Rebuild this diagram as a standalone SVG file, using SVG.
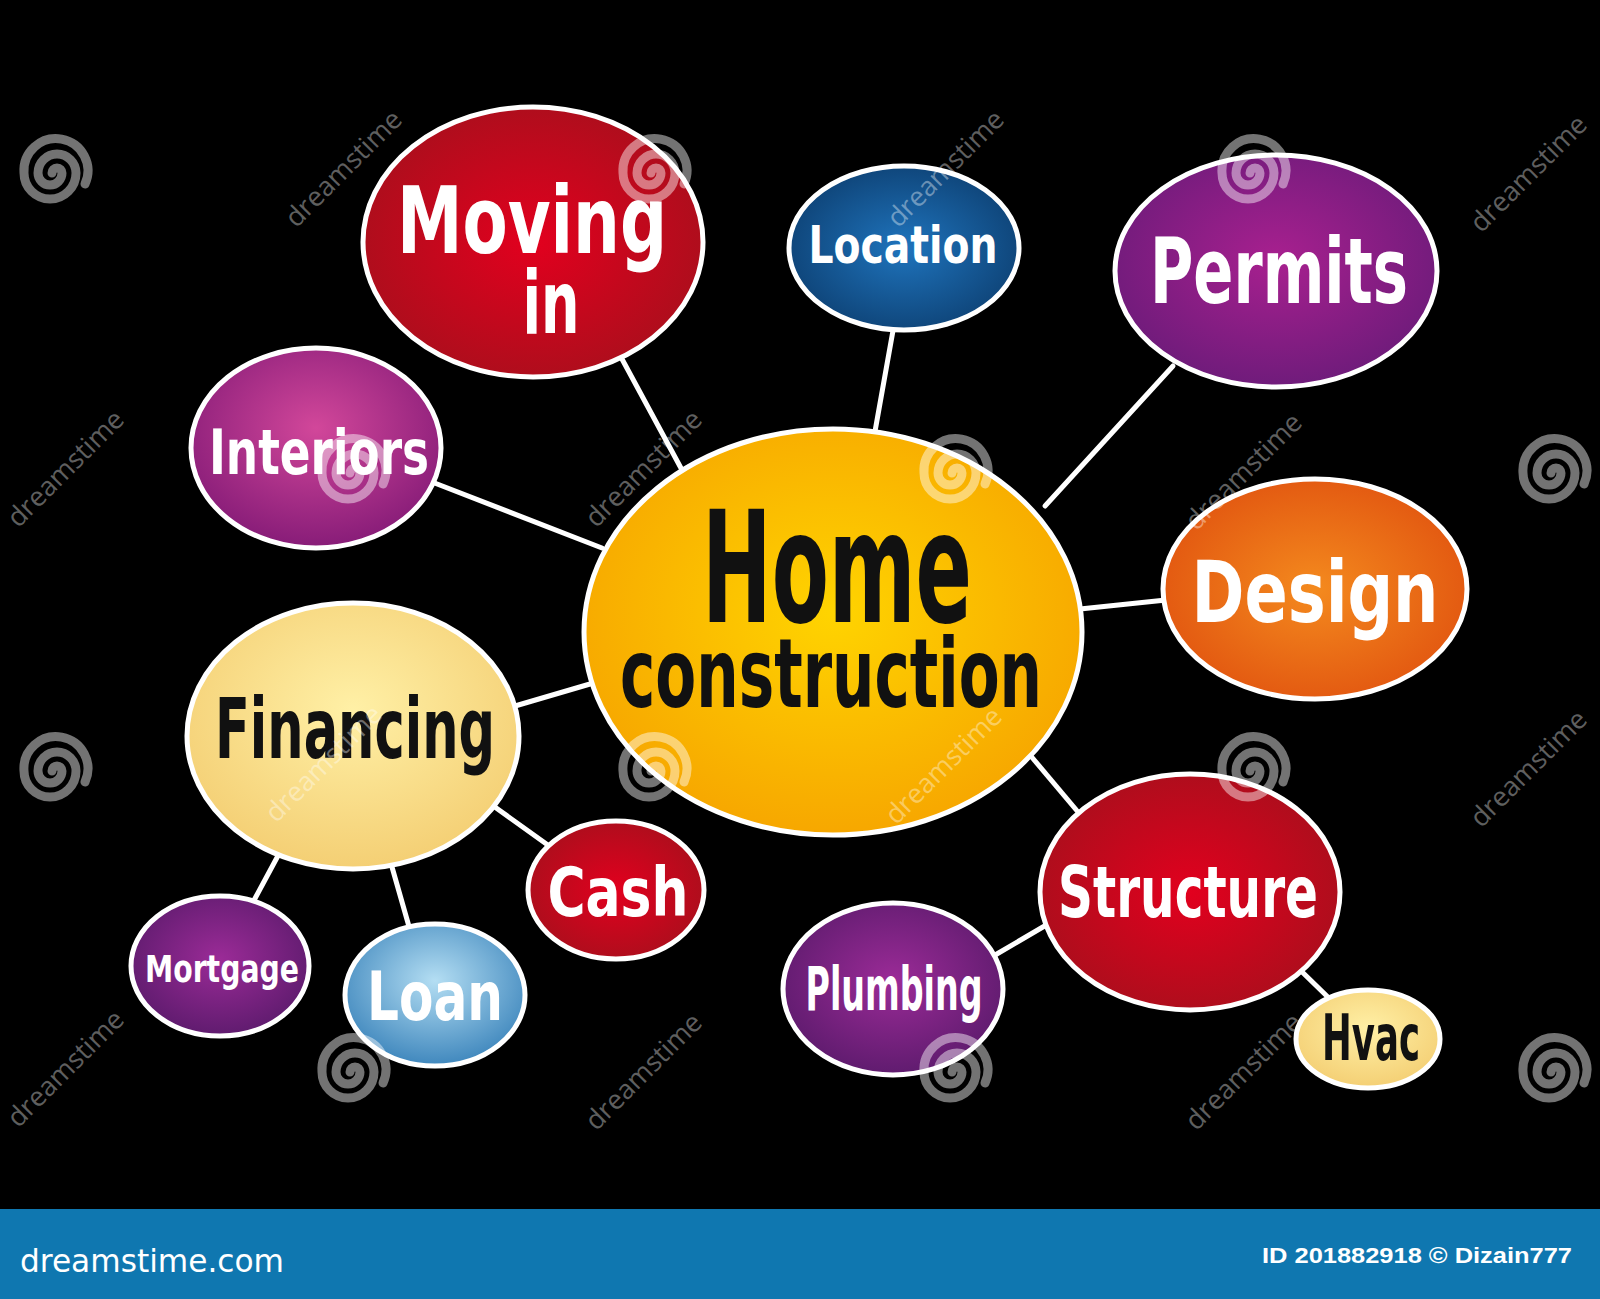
<svg xmlns="http://www.w3.org/2000/svg" width="1600" height="1299" viewBox="0 0 1600 1299">
<defs>
<style>
.bg{fill:#000}
.node{stroke:#fff;stroke-width:5}
.lbl{font-family:"DejaVu Sans Condensed","DejaVu Sans",sans-serif;font-weight:bold;text-anchor:middle}
.w{fill:#fff}
.k{fill:#111}
.conn line{stroke:#fff;stroke-width:5;stroke-linecap:round}
.wm{font-family:"Open Sans","DejaVu Sans",sans-serif;font-size:27px;fill:#fff;fill-opacity:0.38;text-anchor:middle}
.sp{fill:none;stroke:#fff;stroke-opacity:0.45;stroke-width:9;stroke-linecap:round}
</style>
<radialGradient id="gYellow" cx="50%" cy="45%" r="60%"><stop offset="0" stop-color="#ffd400"/><stop offset="1" stop-color="#f6a300"/></radialGradient>
<radialGradient id="gRed" cx="50%" cy="50%" r="60%"><stop offset="0" stop-color="#e2001e"/><stop offset="1" stop-color="#a5101c"/></radialGradient>
<radialGradient id="gBlue" cx="50%" cy="50%" r="60%"><stop offset="0" stop-color="#1f74bd"/><stop offset="1" stop-color="#0c3d6e"/></radialGradient>
<radialGradient id="gPurple" cx="50%" cy="45%" r="60%"><stop offset="0" stop-color="#a8208f"/><stop offset="1" stop-color="#6a1b79"/></radialGradient>
<radialGradient id="gPink" cx="50%" cy="40%" r="60%"><stop offset="0" stop-color="#d2479a"/><stop offset="1" stop-color="#871c78"/></radialGradient>
<radialGradient id="gOrange" cx="50%" cy="50%" r="60%"><stop offset="0" stop-color="#f48a1e"/><stop offset="1" stop-color="#e0510f"/></radialGradient>
<radialGradient id="gPale" cx="50%" cy="40%" r="60%"><stop offset="0" stop-color="#fff0a6"/><stop offset="1" stop-color="#f4cf74"/></radialGradient>
<radialGradient id="gLight" cx="50%" cy="40%" r="60%"><stop offset="0" stop-color="#b4def3"/><stop offset="1" stop-color="#3f87bd"/></radialGradient>
<radialGradient id="gViolet" cx="50%" cy="45%" r="60%"><stop offset="0" stop-color="#9b2b97"/><stop offset="1" stop-color="#5a1a6b"/></radialGradient>
<symbol id="spiral" viewBox="-40 -40 80 80" overflow="visible">
<path class="sp" d="M 3 -1 A 5 5 0 0 1 13 -1 A 12 12 0 0 1 -11 -1 A 19 19 0 0 1 27 -1 A 26 26 0 0 1 -25 -1 A 32 32 0 1 1 36 10"/>
</symbol>
</defs>
<rect class="bg" x="0" y="0" width="1600" height="1299"/>

<g id="connectors" class="conn">
<line x1="622" y1="359" x2="682" y2="470"/>
<line x1="894" y1="325" x2="874" y2="437"/>
<line x1="1173" y1="366" x2="1045" y2="506"/>
<line x1="432" y1="482" x2="602" y2="548"/>
<line x1="1166" y1="600" x2="1080" y2="609"/>
<line x1="515" y1="706" x2="590" y2="684"/>
<line x1="1078" y1="812" x2="1030" y2="755"/>
<line x1="492" y1="805" x2="552" y2="848"/>
<line x1="280" y1="852" x2="252" y2="904"/>
<line x1="390" y1="860" x2="410" y2="930"/>
<line x1="1048" y1="924" x2="990" y2="958"/>
<line x1="1296" y1="966" x2="1335" y2="1004"/>
</g>

<g id="node-home">
<ellipse class="node" cx="833" cy="632" rx="249" ry="203" fill="url(#gYellow)"/>
<text class="lbl k" x="837" y="622" font-size="155" textLength="270" lengthAdjust="spacingAndGlyphs">Home</text>
<text class="lbl k" x="831" y="707" font-size="96" textLength="422" lengthAdjust="spacingAndGlyphs">construction</text>
</g>
<g id="node-moving-in">
<ellipse class="node" cx="533" cy="242" rx="170" ry="135" fill="url(#gRed)"/>
<text class="lbl w" x="532" y="253" font-size="92" textLength="270" lengthAdjust="spacingAndGlyphs">Moving</text>
<text class="lbl w" x="551" y="333" font-size="88" textLength="57" lengthAdjust="spacingAndGlyphs">in</text>
</g>
<g id="node-location">
<ellipse class="node" cx="904" cy="248" rx="115" ry="82" fill="url(#gBlue)"/>
<text class="lbl w" x="903" y="263" font-size="52" textLength="189" lengthAdjust="spacingAndGlyphs">Location</text>
</g>
<g id="node-permits">
<ellipse class="node" cx="1276" cy="271" rx="161" ry="116" fill="url(#gPurple)"/>
<text class="lbl w" x="1279" y="303" font-size="90" textLength="258" lengthAdjust="spacingAndGlyphs">Permits</text>
</g>
<g id="node-interiors">
<ellipse class="node" cx="316" cy="448" rx="125" ry="100" fill="url(#gPink)"/>
<text class="lbl w" x="319" y="474" font-size="63" textLength="220" lengthAdjust="spacingAndGlyphs">Interiors</text>
</g>
<g id="node-design">
<ellipse class="node" cx="1315" cy="589" rx="152" ry="110" fill="url(#gOrange)"/>
<text class="lbl w" x="1315" y="622" font-size="86" textLength="247" lengthAdjust="spacingAndGlyphs">Design</text>
</g>
<g id="node-financing">
<ellipse class="node" cx="353" cy="736" rx="166" ry="133" fill="url(#gPale)"/>
<text class="lbl k" x="355" y="758" font-size="84" textLength="280" lengthAdjust="spacingAndGlyphs">Financing</text>
</g>
<g id="node-cash">
<ellipse class="node" cx="616" cy="890" rx="88" ry="69" fill="url(#gRed)"/>
<text class="lbl w" x="618" y="916" font-size="67" textLength="141" lengthAdjust="spacingAndGlyphs">Cash</text>
</g>
<g id="node-mortgage">
<ellipse class="node" cx="220" cy="966" rx="89" ry="70" fill="url(#gViolet)"/>
<text class="lbl w" x="222" y="982" font-size="38" textLength="154" lengthAdjust="spacingAndGlyphs">Mortgage</text>
</g>
<g id="node-loan">
<ellipse class="node" cx="435" cy="995" rx="90" ry="71" fill="url(#gLight)"/>
<text class="lbl w" x="435" y="1020" font-size="67" textLength="136" lengthAdjust="spacingAndGlyphs">Loan</text>
</g>
<g id="node-structure">
<ellipse class="node" cx="1190" cy="892" rx="150" ry="118" fill="url(#gRed)"/>
<text class="lbl w" x="1188" y="917" font-size="71" textLength="260" lengthAdjust="spacingAndGlyphs">Structure</text>
</g>
<g id="node-plumbing">
<ellipse class="node" cx="893" cy="989" rx="110" ry="86" fill="url(#gViolet)"/>
<text class="lbl w" x="894" y="1010" font-size="60" textLength="177" lengthAdjust="spacingAndGlyphs">Plumbing</text>
</g>
<g id="node-hvac">
<ellipse class="node" cx="1368" cy="1039" rx="72" ry="49" fill="url(#gPale)"/>
<text class="lbl k" x="1371" y="1060" font-size="64" textLength="98" lengthAdjust="spacingAndGlyphs">Hvac</text>
</g>

<g id="watermark">
<use href="#spiral" x="9" y="134" width="80" height="80"/>
<use href="#spiral" x="608" y="134" width="80" height="80"/>
<use href="#spiral" x="1207" y="134" width="80" height="80"/>
<use href="#spiral" x="307" y="434" width="80" height="80"/>
<use href="#spiral" x="909" y="434" width="80" height="80"/>
<use href="#spiral" x="1508" y="434" width="80" height="80"/>
<use href="#spiral" x="9" y="732" width="80" height="80"/>
<use href="#spiral" x="608" y="732" width="80" height="80"/>
<use href="#spiral" x="1207" y="732" width="80" height="80"/>
<use href="#spiral" x="307" y="1033" width="80" height="80"/>
<use href="#spiral" x="909" y="1033" width="80" height="80"/>
<use href="#spiral" x="1508" y="1033" width="80" height="80"/>
<text class="wm" transform="translate(350,175) rotate(-45)">dreamstime</text>
<text class="wm" transform="translate(952,175) rotate(-45)">dreamstime</text>
<text class="wm" transform="translate(1535,180) rotate(-45)">dreamstime</text>
<text class="wm" transform="translate(72,475) rotate(-45)">dreamstime</text>
<text class="wm" transform="translate(650,475) rotate(-45)">dreamstime</text>
<text class="wm" transform="translate(1250,478) rotate(-45)">dreamstime</text>
<text class="wm" transform="translate(330,770) rotate(-45)">dreamstime</text>
<text class="wm" transform="translate(950,772) rotate(-45)">dreamstime</text>
<text class="wm" transform="translate(1535,775) rotate(-45)">dreamstime</text>
<text class="wm" transform="translate(72,1075) rotate(-45)">dreamstime</text>
<text class="wm" transform="translate(650,1078) rotate(-45)">dreamstime</text>
<text class="wm" transform="translate(1250,1078) rotate(-45)">dreamstime</text>
</g>

<g id="footer">
<rect x="0" y="1209" width="1600" height="90" fill="#0f77b0"/>
<text x="20" y="1272" font-family="DejaVu Sans Condensed, DejaVu Sans, sans-serif" font-size="32" fill="#fff" textLength="264" lengthAdjust="spacingAndGlyphs">dreamstime.com</text>
<text x="1572" y="1263" font-family="Liberation Sans Narrow, Liberation Sans, sans-serif" font-weight="bold" font-size="22" fill="#fff" text-anchor="end" textLength="310" lengthAdjust="spacingAndGlyphs">ID 201882918 © Dizain777</text>
</g>
</svg>
